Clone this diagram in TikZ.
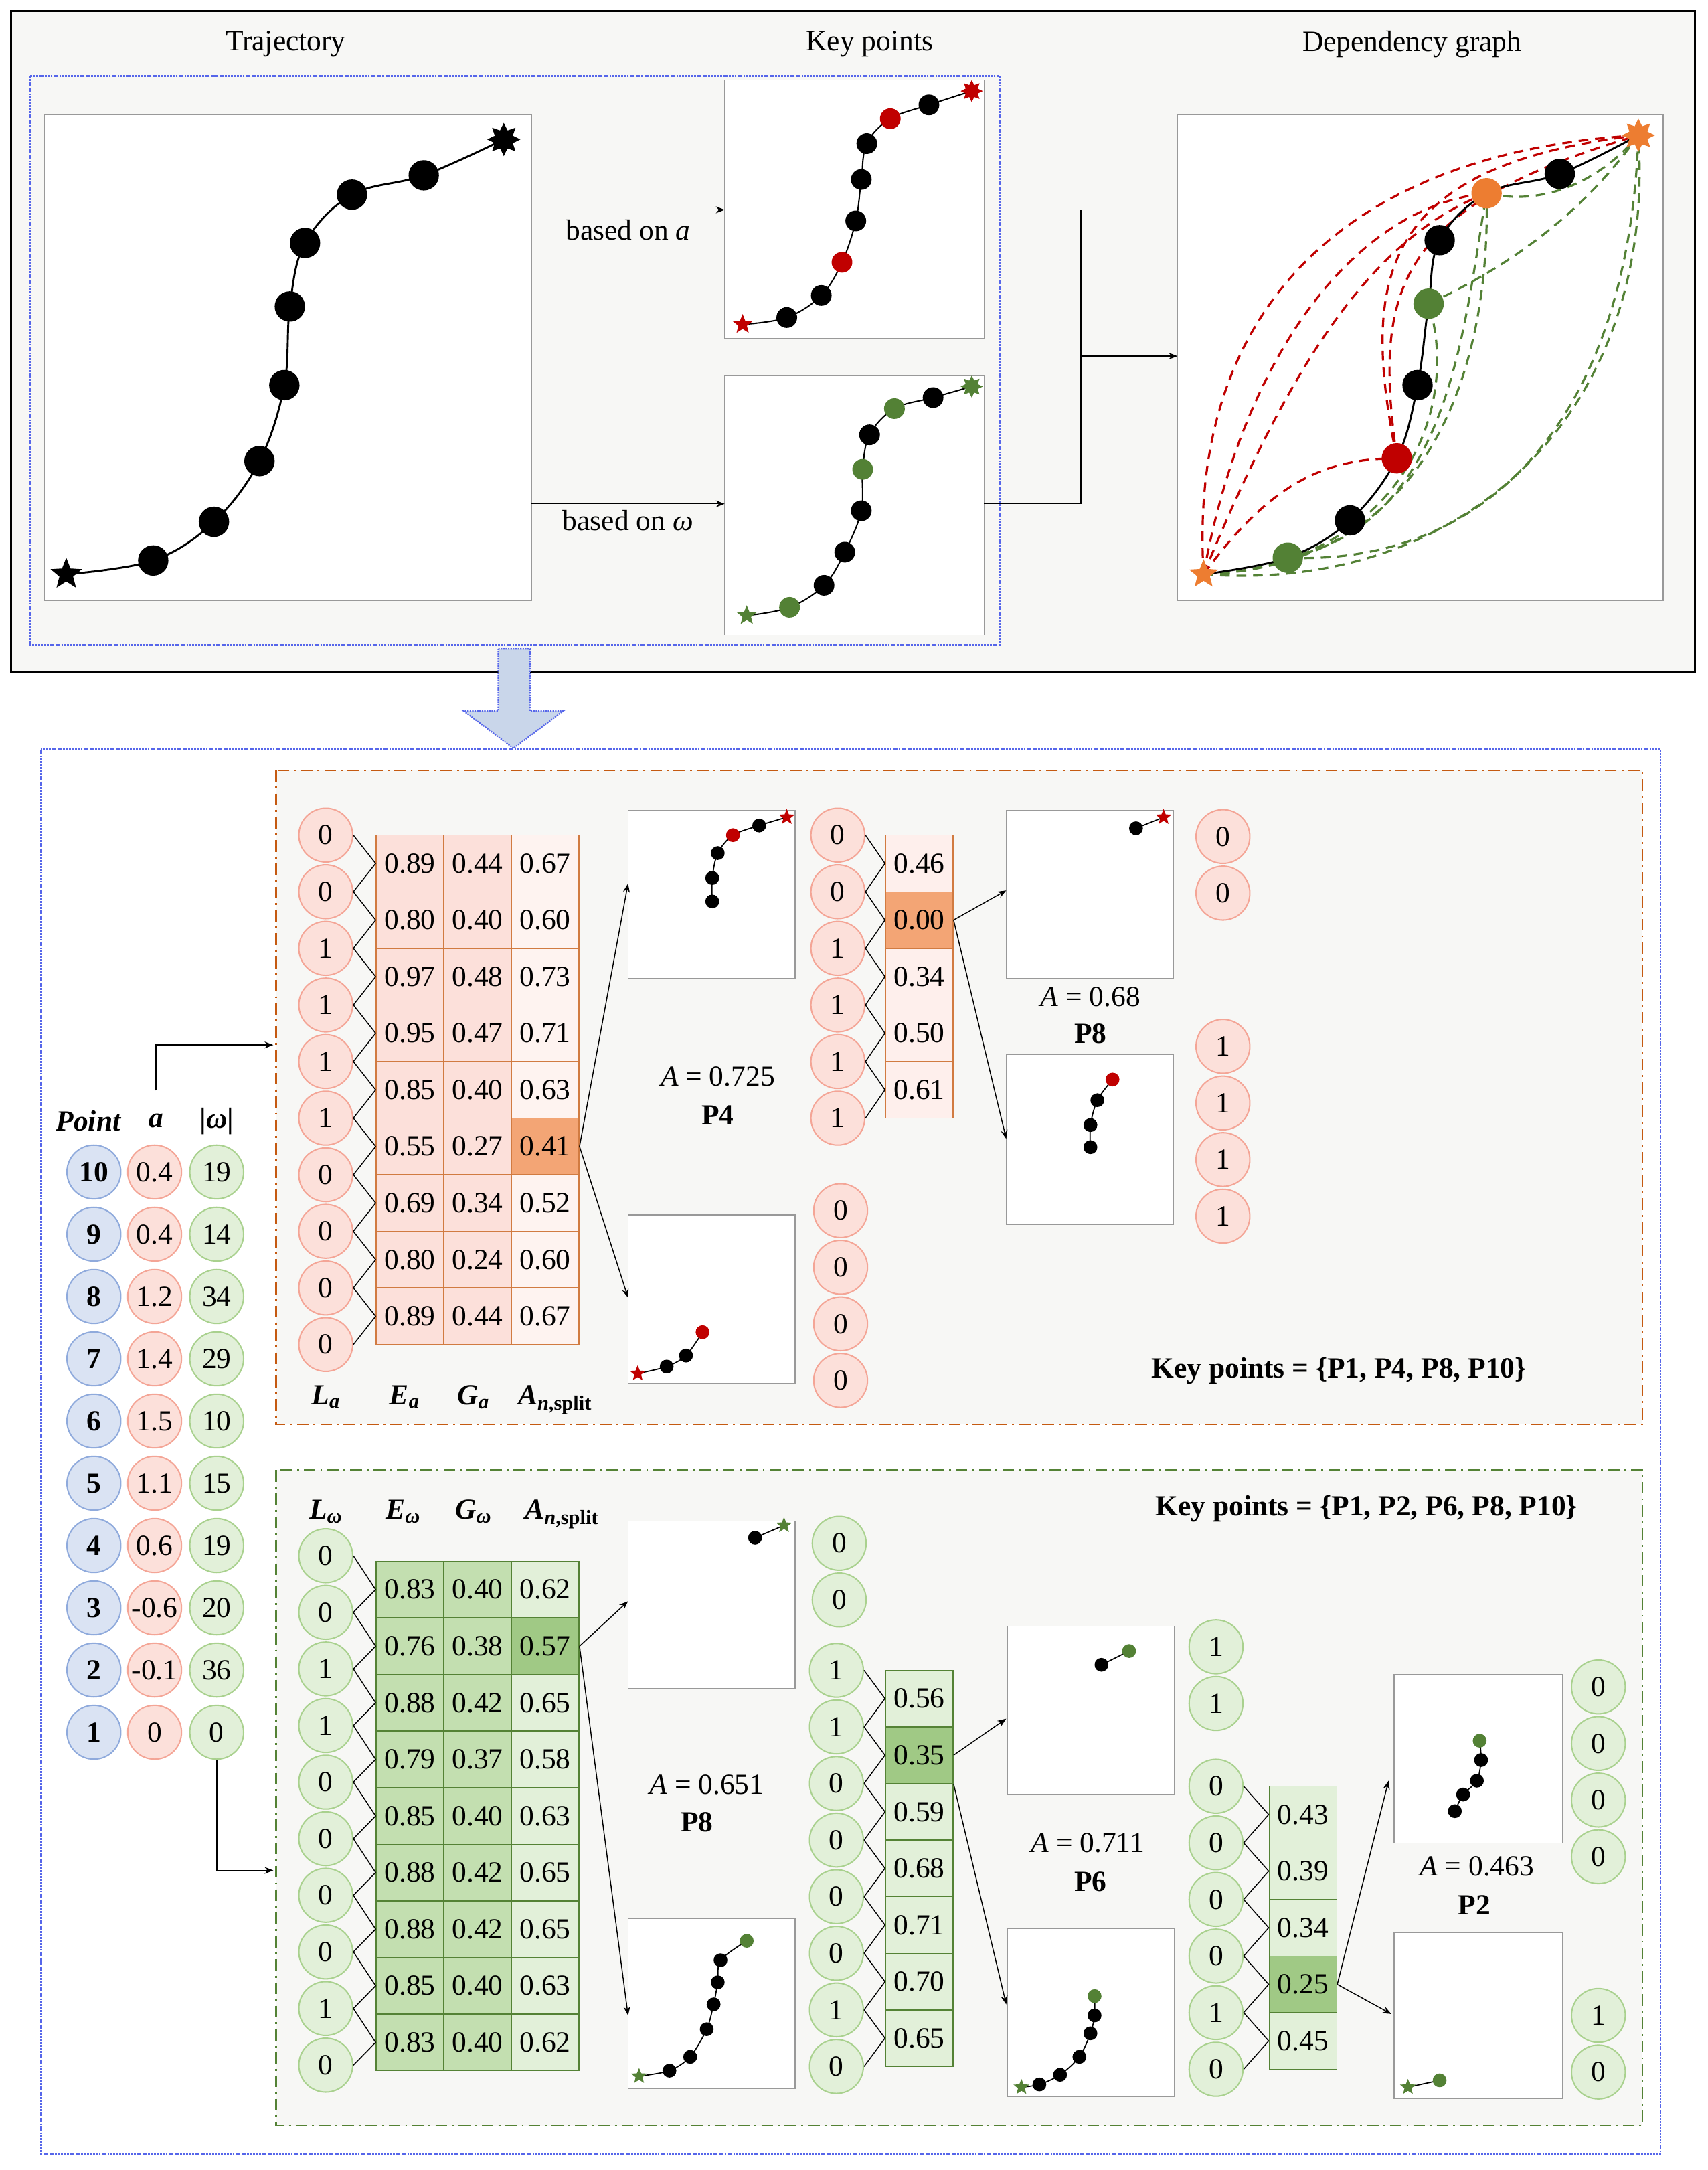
\documentclass[tikz,border=0pt]{standalone}
\usepackage{fontspec}
\setmainfont{Liberation Serif}
\usetikzlibrary{shapes.geometric,arrows.meta,positioning}
\definecolor{redfill}{HTML}{FCE0DA}
\definecolor{redline}{HTML}{F4A596}
\definecolor{bluefill}{HTML}{DAE3F3}
\definecolor{blueline}{HTML}{8FAADC}
\definecolor{greenfill}{HTML}{E2F0D9}
\definecolor{greenline}{HTML}{A9D18E}
\definecolor{orgline}{HTML}{C55A11}
\definecolor{grnline}{HTML}{548235}
\definecolor{ptred}{HTML}{C00000}
\definecolor{ptgreen}{HTML}{538135}
\definecolor{ptorange}{HTML}{ED7D31}
\definecolor{panel}{HTML}{F7F7F5}
\definecolor{blockfill}{HTML}{C9D6EA}
\colorlet{ohigh}{ptorange!60!redfill}
\colorlet{ghigh}{greenline!90!grnline}
\tikzset{
  txt/.style={font=\fontsize{30}{36}\selectfont, inner sep=0pt},
  circ/.style={circle, minimum size=1.95cm, inner sep=0pt, line width=1.4pt, font=\fontsize{30}{36}\selectfont},
  cr/.style={circ, fill=redfill, draw=redline},
  cb/.style={circ, fill=bluefill, draw=blueline},
  cg/.style={circ, fill=greenfill, draw=greenline},
  cell/.style={rectangle, minimum width=2.45cm, minimum height=2.05cm, inner sep=0pt, line width=1pt, font=\fontsize{30}{36}\selectfont},
  ocell/.style={cell, draw=orgline!80, fill=#1},
  gcell/.style={cell, draw=grnline, fill=#1},
  arr/.style={-{Stealth[length=9pt,width=7pt]}, line width=1pt},
  box/.style={draw=black!40, fill=white, line width=1pt},
  dot/.style={circle, fill=#1, inner sep=0pt, minimum size=0.5cm},
  bigdot/.style={circle, fill=#1, inner sep=0pt, minimum size=1.1cm},
  pstar/.style={star, star points=5, star point ratio=2.3, fill=#1, inner sep=0pt, minimum size=0.75cm},
  bigstar/.style={star, star points=#1, star point ratio=1.7, inner sep=0pt, minimum size=1.2cm},
  rdash/.style={dashed, dash pattern=on 10pt off 7pt, line width=2.2pt, ptred},
  gdash/.style={dashed, dash pattern=on 10pt off 7pt, line width=2.2pt, ptgreen},
}
\begin{document}
\begin{tikzpicture}[x=0.05cm, y=-0.05cm]
\useasboundingbox (0,0) rectangle (1237,1572);
\fill[white] (0,0) rectangle (1237,1572);
% top panel
\draw[line width=2pt, fill=panel] (8,8) rectangle (1228,487);
\draw[blueline!60!blue, densely dotted, line width=2pt] (22,55) rectangle (724,467);
\node[txt] (ttraj) at (207,32) {Trajectory};
\node[txt] (tkey) at (630,32) {Key points};
\node[txt] (tdep) at (1023,32) {Dependency graph};
% trajectory
\draw[box] (32,83) rectangle (385,435);
\draw[line width=2pt] plot[smooth, tension=0.6] coordinates {(48,416) (111,406) (155,378) (188,334) (206,279) (210,222) (221,176) (255,141) (307,127) (365,101)};
\foreach \p in {(111,406),(155,378),(188,334),(206,279),(210,222),(221,176),(255,141),(307,127)}
  \node[bigdot=black] at \p {};
\node[pstar=black, minimum size=1.2cm] (s0) at (48,416) {};
\node[bigstar=8, fill=black] (e0) at (365,101) {};
% key point boxes
\draw[box] (525,58) rectangle (713,245);
\draw[box] (525,272) rectangle (713,460);
\coordinate (k1) at (525,152);
\coordinate (k2) at (525,365);
\coordinate (t1) at (385,152);
\coordinate (t2) at (385,365);
\draw[arr] (t1) -- node[txt, below=10pt] (lba) {based on \textit{a}} (k1);
\draw[arr] (t2) -- node[txt, below=6pt] (lbw) {based on \textit{ω}} (k2);
\draw[line width=1.4pt] plot[smooth, tension=0.6] coordinates {(538,235) (570,230) (595,214) (610,190) (620,160) (624,130) (628,104) (645,86) (673,76) (704,66)};
\foreach \p/\c in {(570,230)/black,(595,214)/black,(610,190)/ptred,(620,160)/black,(624,130)/black,(628,104)/black,(645,86)/ptred,(673,76)/black}
  \node[dot=\c, minimum size=0.75cm] at \p {};
\node[pstar=ptred] at (538,235) {};
\node[bigstar=8, fill=ptred, minimum size=0.8cm] at (704,66) {};
\draw[line width=1.4pt] plot[smooth, tension=0.6] coordinates {(541,446) (572,440) (597,424) (612,400) (624,370) (625,340) (630,315) (648,296) (676,288) (704,280)};
\foreach \p/\c in {(572,440)/ptgreen,(597,424)/black,(612,400)/black,(624,370)/black,(625,340)/ptgreen,(630,315)/black,(648,296)/ptgreen,(676,288)/black}
  \node[dot=\c, minimum size=0.75cm] at \p {};
\node[pstar=ptgreen] at (541,446) {};
\node[bigstar=8, fill=ptgreen, minimum size=0.8cm] at (704,280) {};
% merge
\coordinate (m1) at (713,152);
\coordinate (m2) at (713,365);
\coordinate (mj) at (783,258);
\coordinate (dg) at (853,258);
\draw[line width=1pt] (m1) -| (mj);
\draw[line width=1pt] (m2) -| (mj);
\draw[arr] (mj) -- (dg);
% dependency graph
\draw[box] (853,83) rectangle (1205,435);
\coordinate (s) at (872,416);
\coordinate (g1) at (933,404);
\coordinate (r1) at (1012,332);
\coordinate (g2) at (1035,220);
\coordinate (o1) at (1077,140);
\coordinate (e) at (1187,98);
\draw[rdash] (s) .. controls (860,220) and (980,110) .. (e);
\draw[rdash] (s) .. controls (900,260) and (980,150) .. (o1);
\draw[rdash] (s) .. controls (920,350) and (960,332) .. (r1);
\draw[rdash] (r1) .. controls (985,200) and (1000,120) .. (e);
\draw[rdash] (r1) .. controls (995,210) and (1010,150) .. (e);
\draw[rdash] (s) .. controls (940,250) and (1000,170) .. (o1);
\draw[gdash] (s) .. controls (1060,430) and (1200,300) .. (e);
\draw[gdash] (g1) .. controls (1080,410) and (1180,300) .. (e);
\draw[gdash] (s) .. controls (1010,410) and (1060,300) .. (g2);
\draw[gdash] (s) .. controls (1040,410) and (1080,260) .. (o1);
\draw[gdash] (g1) .. controls (1050,380) and (1060,240) .. (o1);
\draw[gdash] (g2) .. controls (1100,190) and (1150,150) .. (e);
\draw[gdash] (o1) .. controls (1120,150) and (1160,130) .. (e);
\draw[line width=2pt] plot[smooth, tension=0.6] coordinates {(872,416) (933,404) (978,377) (1012,332) (1027,279) (1035,220) (1043,174) (1077,140) (1130,126) (1187,98)};
\foreach \p/\c in {(933,404)/ptgreen,(978,377)/black,(1012,332)/ptred,(1027,279)/black,(1035,220)/ptgreen,(1043,174)/black,(1077,140)/ptorange,(1130,126)/black}
  \node[bigdot=\c] at \p {};
\node[pstar=ptorange, minimum size=1.1cm] at (s) {};
\node[bigstar=8, fill=ptorange] at (e) {};
% block arrow
\draw[blueline!60!blue, densely dotted, line width=1.5pt, fill=blockfill]
  (361,470) -- (384,470) -- (384,515) -- (408,515) -- (372,542) -- (336,515) -- (361,515) -- cycle;
% bottom panel
\draw[blueline!60!blue, densely dotted, line width=2pt] (30,543) rectangle (1203,1560);
\draw[orgline, dash pattern=on 12pt off 5pt on 2pt off 5pt, line width=1.5pt, fill=panel] (200,558) rectangle (1190,1032);
\draw[grnline, dash pattern=on 12pt off 5pt on 2pt off 5pt, line width=1.5pt, fill=panel] (200,1065) rectangle (1190,1540);
% input table
\node[txt, font=\fontsize{30}{36}\selectfont\bfseries\itshape] (hp) at (64,812) {Point};
\node[txt, font=\fontsize{30}{36}\selectfont\bfseries\itshape] (ha) at (113,812) {a};
\node[txt, font=\fontsize{30}{36}\selectfont\bfseries] (hw) at (157,812) {|\textit{ω}|};
\foreach \p/\a/\w [count=\i from 0] in {10/0.4/19,9/0.4/14,8/1.2/34,7/1.4/29,6/1.5/10,5/1.1/15,4/0.6/19,3/-0.6/20,2/-0.1/36,1/0/0}{
  \node[cb, font=\fontsize{30}{36}\selectfont\bfseries] (pt\i) at (68,849+45.1*\i) {\p};
  \node[cr] (pa\i) at (112,849+45.1*\i) {\a};
  \node[cg] (pw\i) at (157,849+45.1*\i) {\w};
}
\coordinate (ina) at (198,757);
\coordinate (inw) at (198,1355);
\coordinate (sta) at (113,790);
\draw[arr] (sta) |- (ina);
\draw[arr] (pw9.south) |- (inw);
% ---- acceleration branch
\foreach \v [count=\i from 0] in {0,0,1,1,1,1,0,0,0,0}
  \node[cr] (la\i) at (236,605+41*\i) {\v};
\foreach \e/\g/\s [count=\i from 0] in {0.89/0.44/0.67,0.80/0.40/0.60,0.97/0.48/0.73,0.95/0.47/0.71,0.85/0.40/0.63,0.55/0.27/0.41,0.69/0.34/0.52,0.80/0.24/0.60,0.89/0.44/0.67}{
  \ifnum\i=5 \def\fc{ohigh}\else\def\fc{redfill!40}\fi
  \node[ocell=redfill] (ea\i) at (297,625.5+41*\i) {\e};
  \node[ocell=redfill] (ga\i) at (346,625.5+41*\i) {\g};
  \node[ocell=\fc] (sa\i) at (395,625.5+41*\i) {\s};
}
\foreach \i in {0,...,8}{
  \pgfmathtruncatemacro\j{\i+1}
  \draw[line width=1pt] (la\i.east) -- (ea\i.west) -- (la\j.east);
}
\node[txt, font=\fontsize{30}{36}\selectfont\bfseries\itshape] (hla) at (236,1012) {L\textsubscript{a}};
\node[txt, font=\fontsize{30}{36}\selectfont\bfseries\itshape] (hea) at (293,1012) {E\textsubscript{a}};
\node[txt, font=\fontsize{30}{36}\selectfont\bfseries\itshape] (hga) at (343,1012) {G\textsubscript{a}};
\node[txt, font=\fontsize{30}{36}\selectfont\bfseries] (hsa) at (402,1014) {\textit{A}\textsubscript{\textit{n},split}};
% P4 split
\draw[box] (455,587) rectangle (576,709);
\draw[box] (455,880) rectangle (576,1002);
\coordinate (ba1) at (455,640);
\coordinate (ba2) at (455,940);
\draw[arr] (sa5.east) -- (ba1);
\draw[arr] (sa5.east) -- (ba2);
\draw[line width=1.2pt] plot[smooth] coordinates {(516,653) (516,636) (520,618) (531,605) (550,598) (570,592)};
\foreach \p/\c in {(516,653)/black,(516,636)/black,(520,618)/black,(531,605)/ptred,(550,598)/black}
  \node[dot=\c] at \p {};
\node[pstar=ptred, minimum size=0.6cm] at (570,592) {};
\draw[line width=1.2pt] plot[smooth] coordinates {(462,995) (483,990) (497,982) (509,965)};
\foreach \p/\c in {(483,990)/black,(497,982)/black,(509,965)/ptred}
  \node[dot=\c] at \p {};
\node[pstar=ptred, minimum size=0.6cm] at (462,995) {};
\node[txt] (aa4) at (520,780) {\textit{A} = 0.725};
\node[txt, font=\fontsize{30}{36}\selectfont\bfseries] (np4) at (520,808) {P4};
\foreach \v [count=\i from 0] in {0,0,1,1,1,1}
  \node[cr] (lb\i) at (607,605+41*\i) {\v};
\foreach \v [count=\i from 0] in {0,0,0,0}
  \node[cr] (lc\i) at (609,877+41*\i) {\v};
\foreach \s [count=\i from 0] in {0.46,0.00,0.34,0.50,0.61}{
  \ifnum\i=1 \def\fc{ohigh}\else\def\fc{redfill!50}\fi
  \node[ocell=\fc] (sb\i) at (666,625.5+41*\i) {\s};
}
\foreach \i in {0,...,4}{
  \pgfmathtruncatemacro\j{\i+1}
  \draw[line width=1pt] (lb\i.east) -- (sb\i.west) -- (lb\j.east);
}
% P8 split
\draw[box] (729,587) rectangle (850,709);
\draw[box] (729,764) rectangle (850,887);
\coordinate (bb1) at (729,645);
\coordinate (bb2) at (729,825);
\draw[arr] (sb1.east) -- (bb1);
\draw[arr] (sb1.east) -- (bb2);
\draw[line width=1.2pt] (823,600) -- (843,592);
\node[dot=black] at (823,600) {};
\node[pstar=ptred, minimum size=0.6cm] at (843,592) {};
\draw[line width=1.2pt] plot[smooth] coordinates {(790,831) (790,815) (795,797) (806,782)};
\foreach \p/\c in {(790,831)/black,(790,815)/black,(795,797)/black,(806,782)/ptred}
  \node[dot=\c] at \p {};
\node[txt] (aa8) at (790,722) {\textit{A} = 0.68};
\node[txt, font=\fontsize{30}{36}\selectfont\bfseries] (np8) at (790,749) {P8};
\foreach \v [count=\i from 0] in {0,0}
  \node[cr] (ld\i) at (886,606+41*\i) {\v};
\foreach \v [count=\i from 0] in {1,1,1,1}
  \node[cr] (le\i) at (886,758+41*\i) {\v};
\node[txt, font=\fontsize{30}{36}\selectfont\bfseries] (keya) at (970,993) {Key points = \{P1, P4, P8, P10\}};
% ---- angular velocity branch
\node[txt, font=\fontsize{30}{36}\selectfont\bfseries\itshape] (hlw) at (236,1095) {L\textsubscript{ω}};
\node[txt, font=\fontsize{30}{36}\selectfont\bfseries\itshape] (hew) at (292,1095) {E\textsubscript{ω}};
\node[txt, font=\fontsize{30}{36}\selectfont\bfseries\itshape] (hgw) at (343,1095) {G\textsubscript{ω}};
\node[txt, font=\fontsize{30}{36}\selectfont\bfseries] (hsw) at (407,1097) {\textit{A}\textsubscript{\textit{n},split}};
\foreach \v [count=\i from 0] in {0,0,1,1,0,0,0,0,1,0}
  \node[cg] (lw\i) at (236,1127+41*\i) {\v};
\foreach \e/\g/\s [count=\i from 0] in {0.83/0.40/0.62,0.76/0.38/0.57,0.88/0.42/0.65,0.79/0.37/0.58,0.85/0.40/0.63,0.88/0.42/0.65,0.88/0.42/0.65,0.85/0.40/0.63,0.83/0.40/0.62}{
  \ifnum\i=1 \def\fc{ghigh}\else\def\fc{greenfill}\fi
  \node[gcell=greenline!70] (ew\i) at (297,1151.5+41*\i) {\e};
  \node[gcell=greenline!70] (gw\i) at (346,1151.5+41*\i) {\g};
  \node[gcell=\fc] (sw\i) at (395,1151.5+41*\i) {\s};
}
\foreach \i in {0,...,8}{
  \pgfmathtruncatemacro\j{\i+1}
  \draw[line width=1pt] (lw\i.east) -- (ew\i.west) -- (lw\j.east);
}
% P8 split
\draw[box] (455,1102) rectangle (576,1223);
\draw[box] (455,1390) rectangle (576,1513);
\coordinate (bw1) at (455,1160);
\coordinate (bw2) at (455,1460);
\draw[arr] (sw1.east) -- (bw1);
\draw[arr] (sw1.east) -- (bw2);
\draw[line width=1.2pt] (547,1114) -- (568,1105);
\node[dot=black] at (547,1114) {};
\node[pstar=ptgreen, minimum size=0.6cm] at (568,1105) {};
\draw[line width=1.2pt] plot[smooth] coordinates {(463,1504) (485,1500) (500,1490) (512,1470) (517,1452) (520,1436) (522,1420) (541,1406)};
\foreach \p/\c in {(485,1500)/black,(500,1490)/black,(512,1470)/black,(517,1452)/black,(520,1436)/black,(522,1420)/black,(541,1406)/ptgreen}
  \node[dot=\c] at \p {};
\node[pstar=ptgreen, minimum size=0.6cm] at (463,1504) {};
\node[txt] (aw8) at (512,1293) {\textit{A} = 0.651};
\node[txt, font=\fontsize{30}{36}\selectfont\bfseries] (nw8) at (505,1320) {P8};
\foreach \v [count=\i from 0] in {0,0}
  \node[cg] (lx\i) at (608,1118+41*\i) {\v};
\foreach \v [count=\i from 0] in {1,1,0,0,0,0,1,0}
  \node[cg] (ly\i) at (606,1210+41*\i) {\v};
\foreach \s [count=\i from 0] in {0.56,0.35,0.59,0.68,0.71,0.70,0.65}{
  \ifnum\i=1 \def\fc{ghigh}\else\def\fc{greenfill}\fi
  \node[gcell=\fc] (sy\i) at (666,1230.5+41*\i) {\s};
}
\foreach \i in {0,...,6}{
  \pgfmathtruncatemacro\j{\i+1}
  \draw[line width=1pt] (ly\i.east) -- (sy\i.west) -- (ly\j.east);
}
% P6 split
\draw[box] (730,1178) rectangle (851,1300);
\draw[box] (730,1397) rectangle (851,1519);
\coordinate (by1) at (729,1245);
\coordinate (by2) at (729,1452);
\draw[arr] (sy1.east) -- (by1);
\draw[arr] (sy1.south east) -- (by2);
\draw[line width=1.2pt] (798,1206) -- (818,1196);
\node[dot=black] at (798,1206) {};
\node[dot=ptgreen] at (818,1196) {};
\draw[line width=1.2pt] plot[smooth] coordinates {(740,1512) (753,1510) (768,1503) (782,1490) (790,1473) (793,1460) (793,1446)};
\foreach \p/\c in {(753,1510)/black,(768,1503)/black,(782,1490)/black,(790,1473)/black,(793,1460)/black,(793,1446)/ptgreen}
  \node[dot=\c] at \p {};
\node[pstar=ptgreen, minimum size=0.6cm] at (740,1512) {};
\node[txt] (aw6) at (788,1335) {\textit{A} = 0.711};
\node[txt, font=\fontsize{30}{36}\selectfont\bfseries] (nw6) at (790,1363) {P6};
\foreach \v [count=\i from 0] in {1,1}
  \node[cg] (lz\i) at (881,1193+41*\i) {\v};
\foreach \v [count=\i from 0] in {0,0,0,0,1,0}
  \node[cg] (lv\i) at (881,1294+41*\i) {\v};
\foreach \s [count=\i from 0] in {0.43,0.39,0.34,0.25,0.45}{
  \ifnum\i=3 \def\fc{ghigh}\else\def\fc{greenfill}\fi
  \node[gcell=\fc] (sv\i) at (944,1314.5+41*\i) {\s};
}
\foreach \i in {0,...,4}{
  \pgfmathtruncatemacro\j{\i+1}
  \draw[line width=1pt] (lv\i.east) -- (sv\i.west) -- (lv\j.east);
}
% P2 split
\draw[box] (1010,1213) rectangle (1132,1335);
\draw[box] (1010,1400) rectangle (1132,1520);
\coordinate (bv1) at (1006,1290);
\coordinate (bv2) at (1008,1459);
\draw[arr] (sv3.east) -- (bv1);
\draw[arr] (sv3.east) -- (bv2);
\draw[line width=1.2pt] plot[smooth] coordinates {(1054,1312) (1060,1300) (1070,1290) (1073,1275) (1072,1261)};
\foreach \p/\c in {(1054,1312)/black,(1060,1300)/black,(1070,1290)/black,(1073,1275)/black,(1072,1261)/ptgreen}
  \node[dot=\c] at \p {};
\draw[line width=1.2pt] (1020,1512) -- (1043,1507);
\node[pstar=ptgreen, minimum size=0.6cm] at (1020,1512) {};
\node[dot=ptgreen] at (1043,1507) {};
\node[txt] (aw2) at (1070,1352) {\textit{A} = 0.463};
\node[txt, font=\fontsize{30}{36}\selectfont\bfseries] (nw2) at (1068,1380) {P2};
\foreach \v [count=\i from 0] in {0,0,0,0}
  \node[cg] (lu\i) at (1158,1222+41*\i) {\v};
\foreach \v [count=\i from 0] in {1,0}
  \node[cg] (lt\i) at (1158,1460+41*\i) {\v};
\node[txt, font=\fontsize{30}{36}\selectfont\bfseries] (keyw) at (990,1093) {Key points = \{P1, P2, P6, P8, P10\}};
\end{tikzpicture}
\end{document}
